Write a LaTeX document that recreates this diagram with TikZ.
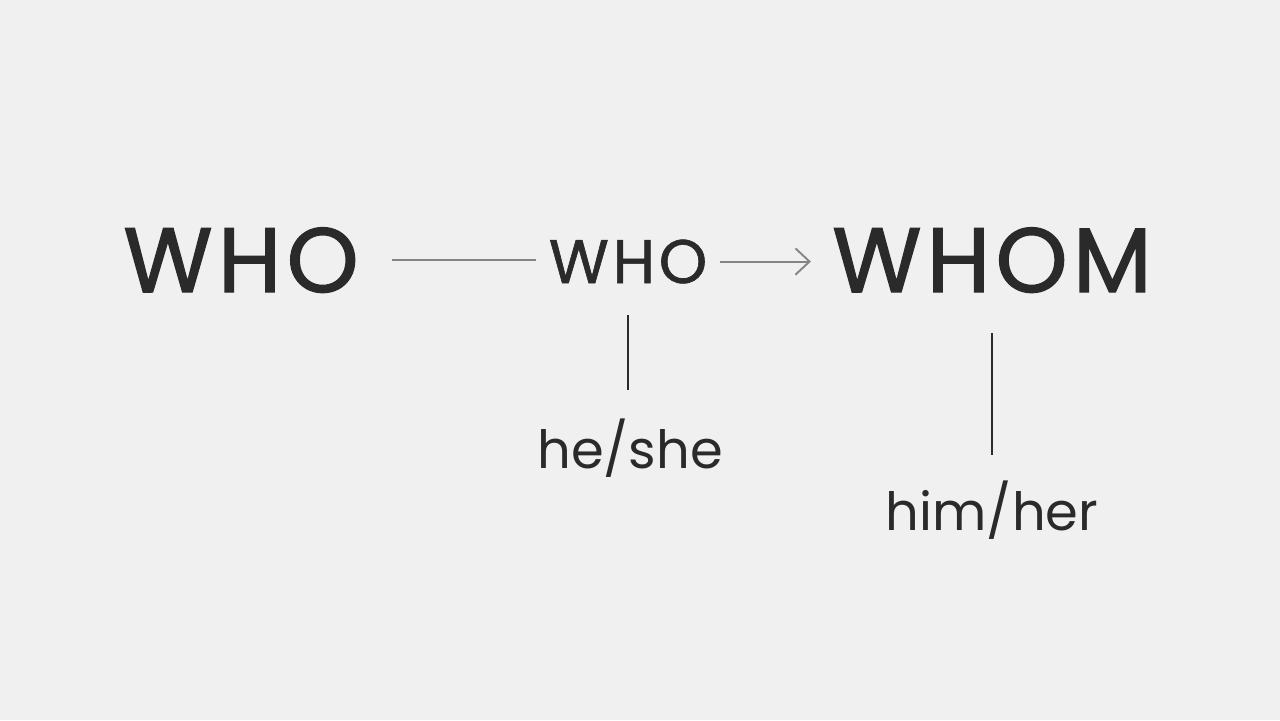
\documentclass[tikz,border=0pt]{standalone}
\usepackage{fontspec}
\setmainfont{Poppins}
\newfontfamily\capsfont[LetterSpace=6,FakeBold=1.0]{Poppins}
\newfontfamily\bigcapsfont[LetterSpace=6,FakeBold=1.6]{Poppins}
\usetikzlibrary{arrows.meta}
\definecolor{bg}{HTML}{F0F0F0}
\definecolor{ink}{HTML}{2A2A2A}
\definecolor{rulegray}{HTML}{858585}
\tikzstyle{bigword}=[text=ink,inner sep=0,anchor=base,font=\bigcapsfont\fontsize{52}{52}\selectfont]
\tikzstyle{midword}=[text=ink,inner sep=0,anchor=base,font=\capsfont\fontsize{35}{35}\selectfont]
\tikzstyle{pronoun}=[text=ink,inner sep=0,anchor=base,font=\fontsize{30}{30}\selectfont]
\tikzstyle{link}=[rulegray,line width=1.1pt]
\tikzstyle{arrow}=[link,-{Straight Barb[length=8pt,width=15pt]}]
\tikzstyle{stem}=[ink,line width=1.3pt]
\begin{document}
\begin{tikzpicture}[x=0.02cm,y=-0.02cm]
\fill[bg] (0,0) rectangle (1280,720);

\node[bigword] (who) at (241,292) {WHO};
\node[midword] (whomid) at (628,283) {WHO};
\node[bigword] (whom) at (992,292) {WHOM};
\node[pronoun] (heshe) at (630,468) {he/she};
\node[pronoun] (himher) at (992,530) {him/her};

\draw[link,shorten <=19pt,shorten >=7pt] (who.east) -- (who.east -| whomid.west);
\draw[arrow,shorten <=7pt,shorten >=12pt] (whomid.east) -- (whomid.east -| whom.west);
\draw[stem,shorten <=18pt,shorten >=16pt] (whomid.south) -- (whomid.south |- heshe.north);
\draw[stem,shorten <=22.8pt,shorten >=14.2pt] (whom.south) -- (whom.south |- himher.north);
\end{tikzpicture}
\end{document}
